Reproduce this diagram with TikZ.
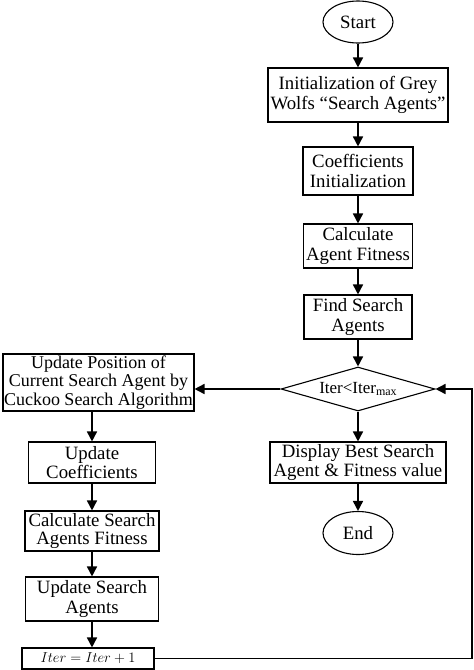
\documentclass[tikz,border=0pt]{standalone}
\usepackage{fontspec}
\setmainfont{Liberation Serif}
\usetikzlibrary{shapes.geometric,arrows.meta}

\tikzset{
  box/.style={draw, line width=1.1pt, align=center, inner sep=1pt,
    font=\fontsize{18.8}{20.5}\selectfont},
  term/.style={draw, ellipse, line width=1.1pt, inner sep=0pt,
    minimum width=70, minimum height=42, font=\fontsize{18.8}{20.5}\selectfont},
  test/.style={draw, diamond, aspect=3.5, line width=1.1pt, inner sep=0pt,
    minimum width=154, minimum height=44, font=\fontsize{17}{19}\selectfont},
  flow/.style={line width=1.6pt, -{Triangle[width=10pt,length=10pt]}}
}

\begin{document}
\begin{tikzpicture}[x=1pt,y=-1pt]
\useasboundingbox (0,0) rectangle (474,670);

% Main column
\node[term] (start) at (358,22) {Start};
\node[box, minimum width=180, minimum height=54] (init) at (358,95)
{Initialization of Grey\\Wolfs ``Search Agents''};
\node[box, minimum width=110, minimum height=48] (coef) at (358,171)
{Coefficients\\Initialization};
\node[box, minimum width=109, minimum height=44] (calc) at (358,246)
{Calculate\\Agent Fitness};
\node[box, minimum width=108, minimum height=44] (find) at (358,317)
{Find Search\\Agents};
\node[test] (cond) at (358,389)
{Iter<Iter\raisebox{-2pt}{\fontsize{12}{13}\selectfont max}};
\node[box, minimum width=176, minimum height=41] (disp) at (358,462.5)
{Display Best Search\\[-1.5pt]Agent \& Fitness value};
\node[term, minimum height=43] (end) at (358,533) {End};

% Update loop
\node[box, minimum width=191, minimum height=57, inner sep=0pt,
  font=\fontsize{18}{20}\selectfont] (upd) at (98.5,382.5)
{Update Position of\\[-1.5pt]Current Search Agent by\\[-1.5pt]Cuckoo Search Algorithm};
\node[box, minimum width=127, minimum height=41] (ucoef) at (92,462.5)
{Update\\[-1.5pt]Coefficients};
\node[box, minimum width=134, minimum height=40] (cfit) at (92,531)
{Calculate Search\\[-2pt]Agents Fitness};
\node[box, minimum width=133, minimum height=44] (usa) at (92,599)
{Update Search\\Agents};
\node[box, minimum width=132, minimum height=21, inner sep=0pt,
  font=\fontsize{15.5}{17}\selectfont] (iter) at (88,658.5)
{$Iter = Iter + 1$};
\coordinate (back) at (472,658.5);

% Connectors
\draw[flow] (start) -- (init);
\draw[flow] (init) -- (coef);
\draw[flow] (coef) -- (calc);
\draw[flow] (calc) -- (find);
\draw[flow] (find) -- (cond);
\draw[flow] (cond) -- (disp);
\draw[flow] (disp) -- (end);
\draw[flow] (cond.west) -- (cond.west -| upd.east);
\draw[flow] (upd.south -| ucoef.north) -- (ucoef.north);
\draw[flow] (ucoef) -- (cfit);
\draw[flow] (cfit) -- (usa);
\draw[flow] (usa.south) -- (usa.south |- iter.north);
\draw[flow] (iter.east) -- (back) -- (back |- cond.east) -- (cond.east);

\end{tikzpicture}
\end{document}
